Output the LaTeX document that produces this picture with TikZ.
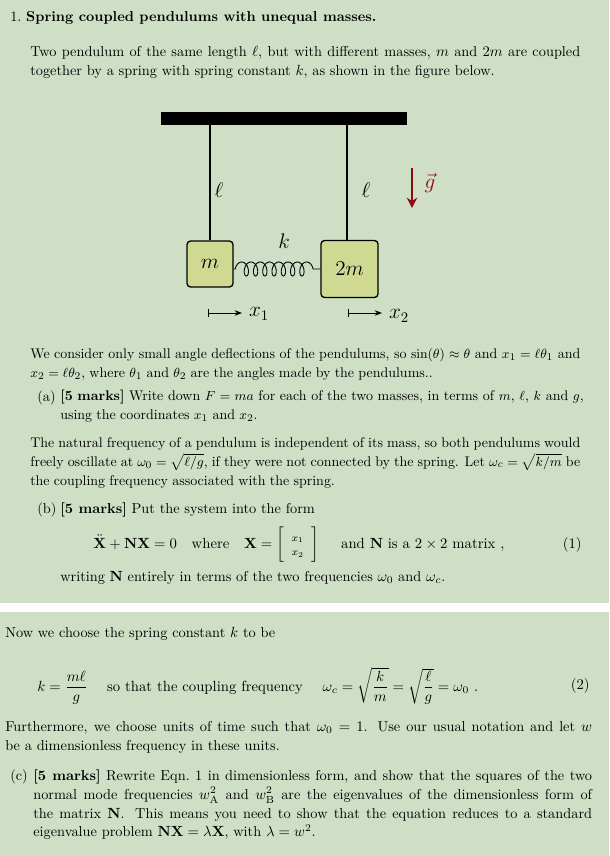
\documentclass[tikz,border=0pt]{standalone}
\usepackage{amsmath,amssymb}
\usetikzlibrary{decorations.pathmorphing,arrows.meta}
\definecolor{bg}{HTML}{CEDFC5}
\definecolor{boxc}{HTML}{CFD992}
\definecolor{gred}{HTML}{8B0A14}
\begin{document}
\begin{tikzpicture}[x=0.68pt,y=-0.68pt,
  para/.style={anchor=north west,inner sep=0pt,align=justify,font=\fontsize{9.75}{12.9}\selectfont},
  tpara/.style={para,font=\fontsize{9.5}{12.9}\selectfont},
  mass/.style={draw,line width=0.9pt,fill=boxc,rounded corners=2.5pt,inner sep=0pt},
  xarr/.style={-{Stealth[length=5pt]},line width=0.6pt}]
\useasboundingbox (0,0) rectangle (609,856);
\fill[bg] (0,0) rectangle (609,856);
\fill[white] (0,603) rectangle (609,612);
\node[para,text width=390pt] (t1) at (10,11) {1.\ \textbf{Spring coupled pendulums with unequal masses.}};
\node[para,text width=374pt] (p1) at (30,46) {Two pendulum of the same length $\ell$, but with different masses, $m$ and $2m$ are coupled together by a spring with spring constant $k$, as shown in the figure below.};
% figure
\fill (161,112) rectangle (407,125);
\coordinate (s1) at (210,125); \coordinate (s2) at (347,125);
\node[mass,minimum width=31.3pt,minimum height=31.3pt] (m1) at (210,264) {\Large $m$};
\node[mass,minimum width=38.8pt,minimum height=38.8pt] (m2) at (349.5,269) {\Large $2m$};
\draw[line width=0.9pt] (s1) -- (m1.north);
\draw[line width=0.9pt] (s2) -- (s2|-m2.north);
\draw[decorate,decoration={coil,aspect=0.6,segment length=6.3pt,amplitude=4.8pt,pre length=1pt,post length=1pt},line width=0.6pt] (m1.east|-0,269) -- (m2.west|-0,269);
\node (k) at (284,241) {\Large $k$};
\node (l1) at (219,190) {\Large $\ell$};
\node (l2) at (366,190) {\Large $\ell$};
\coordinate (g0) at (412,168); \coordinate (g1) at (412,208);
\draw[gred,line width=1.6pt,-{Stealth[length=7pt,width=7pt]}] (g0) -- (g1);
\node[text=gred] (g) at (430,183) {\Large $\vec g$};
\coordinate (a1) at (208,313); \coordinate (b1) at (242,313);
\coordinate (a2) at (348,313); \coordinate (b2) at (382,313);
\draw[xarr] (a1) -- (b1); \draw[line width=0.6pt] (a1) ++(0,-4) -- ++(0,8);
\draw[xarr] (a2) -- (b2); \draw[line width=0.6pt] (a2) ++(0,-4) -- ++(0,8);
\node[anchor=west] (x1) at (244,314) {\Large $x_1$};
\node[anchor=west] (x2) at (384,316) {\Large $x_2$};
% text
\node[tpara,text width=374pt] (p2) at (30,348) {\spaceskip=2.9pt plus 2pt minus 1.2pt We consider only small angle deflections of the pendulums, so $\sin(\theta)\approx\theta$ and $x_1=\ell\theta_1$ and\linebreak $x_2=\ell\theta_2$, where $\theta_1$ and $\theta_2$ are the angles made by the pendulums..};
\node[para] (la) at (37,390) {(a)};
\node[tpara,text width=356pt] (pa) at (60,390) {\spaceskip=2.9pt plus 2pt minus 1.2pt \textbf{[5 marks]} Write down $F=ma$ for each of the two masses, in terms of $m$, $\ell$, $k$ and $g$,\linebreak using the coordinates $x_1$ and $x_2$.};
\node[tpara,text width=374pt] (p3) at (30,437) {\spaceskip=2.9pt plus 2pt minus 1.2pt The natural frequency of a pendulum is independent of its mass, so both pendulums would\linebreak freely oscillate at $\omega_0=\sqrt{\ell/g}$, if they were not connected by the spring. Let $\omega_c=\sqrt{k/m}$ be\linebreak the coupling frequency associated with the spring.};
\node[para] (lb) at (37,502) {(b)};
\node[para] (pb) at (60,502) {\textbf{[5 marks]} Put the system into the form};
\node[anchor=west,inner sep=0pt] (eq1) at (93,545) {$\ddot{\mathbf X}+\mathbf{NX}=0\quad\text{where}\quad \mathbf X=\left[\begin{array}{c}\scriptstyle x_1\\[-2pt] \scriptstyle x_2\end{array}\right]\quad\ \text{and $\mathbf N$ is a $2\times2$ matrix ,}$};
\node[anchor=east,inner sep=0pt] (n1) at (582,545) {(1)};
\node[para] (pb2) at (60,571) {writing $\mathbf N$ entirely in terms of the two frequencies $\omega_0$ and $\omega_c$.};
\node[para] (p4) at (5,627) {Now we choose the spring constant $k$ to be};
\node[anchor=west,inner sep=0pt] (eq2) at (37,686) {$k=\dfrac{m\ell}{g}\quad\ \text{so that the coupling frequency}\quad\ \omega_c=\sqrt{\dfrac km}=\sqrt{\dfrac{\ell}{g}}=\omega_0\ .$};
\node[anchor=east,inner sep=0pt] (n2) at (590,686) {(2)};
\node[para,text width=399pt] (p5) at (5,721) {Furthermore, we choose units of time such that $\omega_0=1$. Use our usual notation and let $w$\linebreak be a dimensionless frequency in these units.};
\node[para] (lc) at (10,769) {(c)};
\node[para,text width=380pt] (pc) at (33,769) {\textbf{[5 marks]} Rewrite Eqn.~1 in dimensionless form, and show that the squares of the two normal mode frequencies $w_{\rm A}^2$ and $w_{\rm B}^2$ are the eigenvalues of the dimensionless form of the matrix $\mathbf N$. This means you need to show that the equation reduces to a standard eigenvalue problem $\mathbf{NX}=\lambda\mathbf X$, with $\lambda=w^2$.};
\end{tikzpicture}
\end{document}
